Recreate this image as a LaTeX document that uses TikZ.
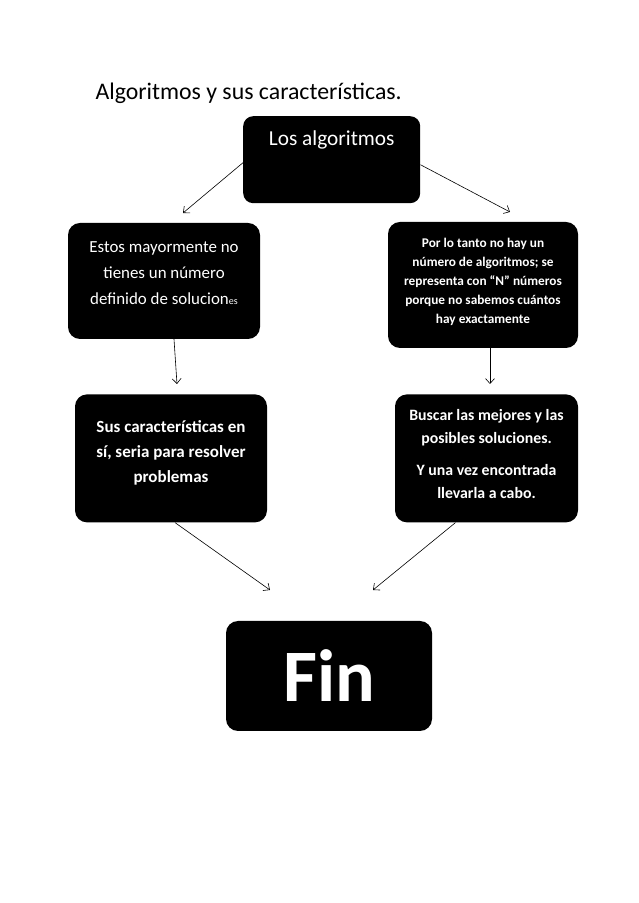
\documentclass[tikz,border=0pt]{standalone}
\usepackage{fontspec}
\setmainfont{Carlito}
\usetikzlibrary{positioning,arrows.meta}
\newcommand{\fsz}[2]{\fontsize{#1}{#2}\selectfont}

\begin{document}
\begin{tikzpicture}[x=1pt, y=1pt,
    block/.style={fill=black, text=white, rounded corners=12pt, inner sep=4pt, align=flush center},
    link/.style={line width=0.6pt, -{Straight Barb[length=5pt,width=9pt]}}]
    \useasboundingbox (0,0) rectangle (638,903);
    \node [anchor=base west, font=\fsz{23.8}{28}] (title) at (92,803) {Algoritmos y sus características.};

    \node [block, rounded corners=10pt, inner sep=0pt, minimum width=177pt,
           text height=29pt, text depth=58pt, font=\fsz{21.3}{24}, anchor=north west] (a) at (243,787) {Los algoritmos};
    \node [block, text width=184pt, minimum height=116pt, text depth=67pt, font=\fsz{16.9}{26}] (b) at (164,622)
        {Estos mayormente no\\ tienes un número\\ definido de solucion{\fsz{10}{12}es}};
    \node [block, text width=182pt, minimum height=126pt, text depth=85pt, font=\bfseries\fsz{13.3}{19}] (c) at (483,618)
        {Por lo tanto no hay un\\ número de algoritmos; se\\ representa con “N” números\\ porque no sabemos cuántos\\ hay exactamente};
    \node [block, text width=184pt, minimum height=128pt, text depth=63.5pt, font=\bfseries\fsz{17}{25}] (d) [below=55pt of b, xshift=7pt]
        {Sus características en\\ sí, seria para resolver\\ problemas};
    \node [block, text width=175pt, minimum height=128pt, text depth=86pt, font=\bfseries\fsz{15.8}{23}] (e) [below=46pt of c, xshift=3.5pt]
        {Buscar las mejores y las\\ posibles soluciones.\\[9pt] Y una vez encontrada\\ llevarla a cabo.};
    \node [block, minimum width=206pt, minimum height=110pt, font=\bfseries\fsz{74}{80}] (f) at (329,227) {Fin};

    \coordinate (ta) at (183,690);
    \coordinate (tb) at (510,691);
    \coordinate (tc) at (177,519);
    \coordinate (td) at (490,519);
    \coordinate (te) at (270,313);
    \coordinate (tf) at (373,313);

    \draw [link] ([yshift=-3pt]a.west) -- (ta);
    \draw [link] ([yshift=-5pt]a.east) -- (tb);
    \draw [link] ([xshift=10pt]b.south) -- (tc);
    \draw [link] ([xshift=7pt]c.south) -- (td);
    \draw [link] ([xshift=4pt]d.south) -- (te);
    \draw [link] ([xshift=-31pt]e.south) -- (tf);
\end{tikzpicture}
\end{document}
